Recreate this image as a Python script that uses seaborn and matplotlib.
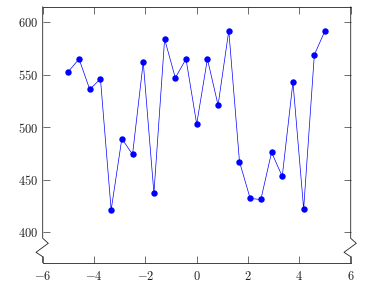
import matplotlib
matplotlib.use("Agg")
import matplotlib.pyplot as plt
import seaborn as sns
import pandas as pd
from matplotlib.lines import Line2D
from matplotlib.ticker import FuncFormatter

x_vals = [-5.0, -4.583, -4.167, -3.75, -3.333, -2.917, -2.5, -2.083, -1.667, -1.25,
          -0.833, -0.417, 0.0, 0.417, 0.833, 1.25, 1.667, 2.083, 2.5, 2.917,
          3.333, 3.75, 4.167, 4.583, 5.0]
y_vals = [553, 565, 536, 546, 421, 489, 474, 562, 437, 584,
          547, 565, 503, 565, 521, 592, 467, 432, 431, 476,
          453, 543, 422, 569, 592]
x_ticks = [-6, -4, -2, 0, 2, 4, 6]
y_ticks = [400, 450, 500, 550, 600]

df = pd.DataFrame({"x": x_vals, "y": y_vals})

sns.set_theme(style="white")
plt.rcParams["mathtext.fontset"] = "cm"
plt.rcParams["font.family"] = ["DejaVu Serif"]

W, H = 367, 285
fig = plt.figure(figsize=(W / 100, H / 100), dpi=100)
L, R, T, B = 42.7, 350.7, 6.7, 262.7
ax = fig.add_axes([L / W, 1 - B / H, (R - L) / W, (B - T) / H])

sns.lineplot(data=df, x="x", y="y", ax=ax, color=(0, 0, 1), linewidth=0.5,
             marker="o", markersize=4.6, markeredgewidth=0, markerfacecolor=(0, 0, 1))

# y: 600 at 22.3px, 400 at 232px
ppu = (232.0 - 22.3) / 200.0
ax.set_xlim(-6, 6)
ax.set_ylim(400 - (B - 232.0) / ppu, 600 + (22.3 - T) / ppu)
ax.set_xticks(x_ticks)
ax.set_yticks(y_ticks)
fmt = FuncFormatter(lambda v, p: r"$%d$" % v)
ax.xaxis.set_major_formatter(fmt)
ax.yaxis.set_major_formatter(fmt)
ax.set_xlabel("")
ax.set_ylabel("")

ax.tick_params(direction="in", length=4.7, width=0.5, color="#333333",
               labelsize=9, top=True, right=True, left=True, bottom=True,
               labelcolor="#222222", pad=3.5)
ax.tick_params(axis="x", pad=5)

for s in ["top", "bottom"]:
    ax.spines[s].set_linewidth(0.6)
    ax.spines[s].set_color("#222222")
for s in ["left", "right"]:
    ax.spines[s].set_visible(False)

# spines with axis-break zigzag (in pixel offsets converted to axes coords)
def to_ax(px, py):
    return (px - L) / (R - L), (B - py) / (B - T)

for x0 in (L, R):
    pts = [(x0, T), (x0, 238.3), (x0 + 5.6, 243.3), (x0 - 6.7, 252.3), (x0, 256.7), (x0, B)]
    xs, ys = zip(*[to_ax(px, py) for px, py in pts])
    ax.add_line(Line2D(xs, ys, transform=ax.transAxes, color="#222222",
                       linewidth=0.6, clip_on=False))

ax.grid(False)
fig.savefig("out.png", dpi=100)
